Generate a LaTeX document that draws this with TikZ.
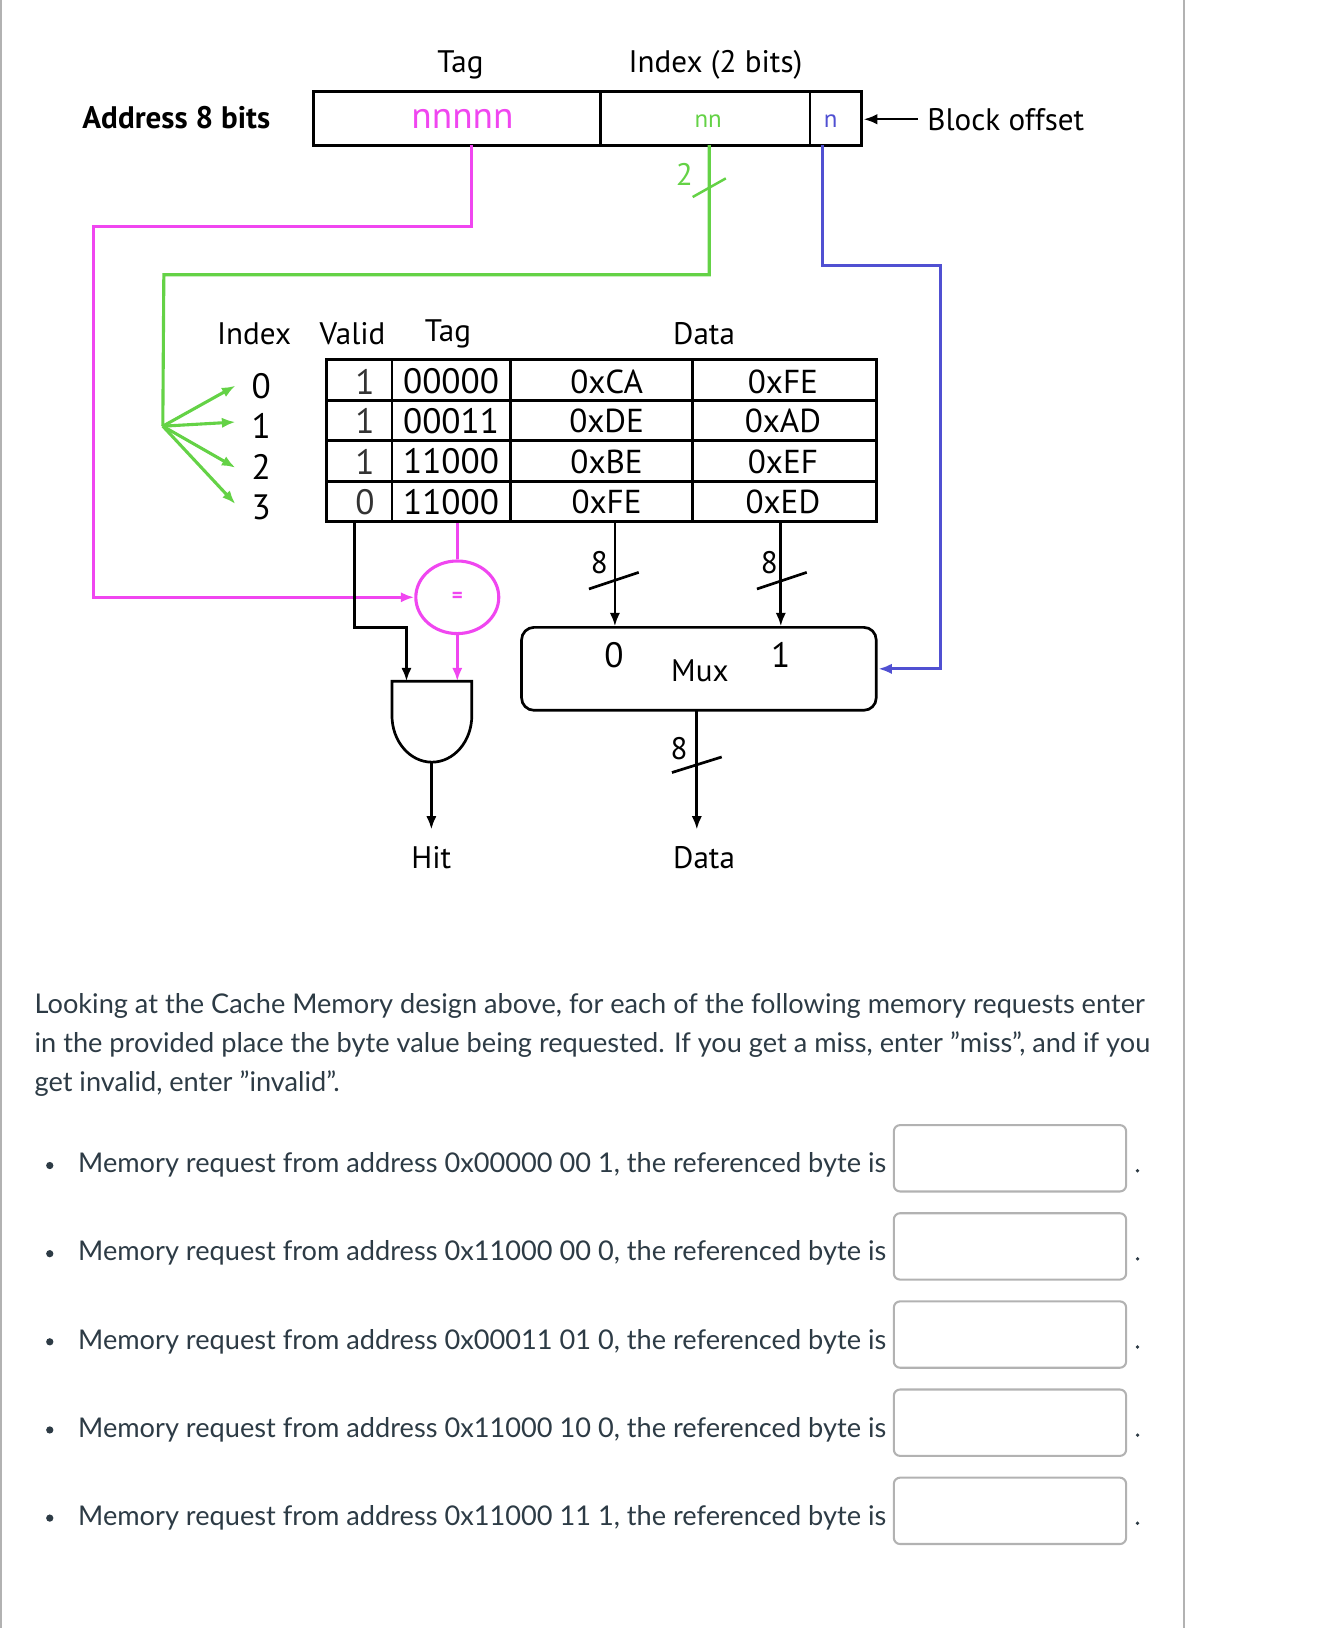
\documentclass[tikz,border=0pt]{standalone}
\usepackage{fontspec}
\setmainfont{Lato}
\newfontfamily\dg{PT Sans}
\usetikzlibrary{arrows.meta,shapes.geometric}
\definecolor{mag}{RGB}{240,70,240}
\definecolor{grn}{RGB}{100,210,70}
\definecolor{blu}{RGB}{80,80,210}
\definecolor{txt}{RGB}{45,59,69}
\begin{document}
\begin{tikzpicture}[x=0.5pt,y=-0.5pt,
  lab/.style={font=\dg\fontsize{15}{15}\selectfont,inner sep=0},
  cell/.style={font=\dg\fontsize{17}{17}\selectfont,inner sep=0},
  arr/.style={-{Latex[length=6.5pt,width=5pt]}},
  w/.style={line width=1.3pt},
  body/.style={font=\fontsize{13.1}{19}\selectfont,text=txt,inner sep=0,anchor=base west},
  ans/.style={draw=gray!60,line width=1pt,rounded corners=3pt}]
\useasboundingbox (0,0) rectangle (1292,1570);
\draw[gray!60,line width=1.2pt] (1,0)--(1,1570) (1142,0)--(1142,1570);
% address
\node[lab,font=\dg\bfseries\fontsize{15}{15}\selectfont] (addr) at (170,113) {Address\ 8\ bits};
\node[lab] (ltag) at (444,63) {Tag};
\node[lab] (lidx) at (690,63) {Index (2 bits)};
\draw[w] (302,88) rectangle (831,140) (579,88)--(579,140) (781,88)--(781,140);
\node[lab,text=mag,font=\dg\fontsize{18}{18}\selectfont] (tg) at (446,115) {nnnnn};
\node[lab,text=grn,font=\dg\fontsize{12}{12}\selectfont] (ix) at (683,117) {nn};
\node[lab,text=blu,font=\dg\fontsize{12}{12}\selectfont] (bo) at (801,117) {n};
\node[lab] (blk) at (970,115) {Block offset};
\coordinate (bs) at (885,115); \coordinate (be) at (833,115);
\draw[arr,line width=1pt] (bs)--(be);
% magenta
\node[draw=mag,line width=1.5pt,ellipse,minimum width=40pt,minimum height=35pt,inner sep=0] (eq) at (441,576) {};
\node[text=mag,font=\dg\bfseries\fontsize{10}{10}\selectfont] at (eq) {=};
\draw[mag,line width=1.5pt,arr] (455,140)--(455,218)--(90,218)--(90,576)--(eq.west);
\draw[mag,line width=1.5pt] (441,503)--(eq.north);
\draw[mag,line width=1.5pt,arr] (eq.south)--(441,657);
% green
\coordinate (fan) at (157,411);
\draw[grn,line width=1.5pt] (684,140)--(684,265)--(158,265)--(fan);
\draw[grn,line width=1.2pt] (668,190)--(700,172);
\node[lab,text=grn] at (660,168) {2};
\foreach \y in {372,407,451,486} \draw[grn,line width=1.5pt,arr] (fan)--(227,\y);
% blue
\draw[blu,line width=1.5pt,arr] (793,140)--(793,256)--(907,256)--(907,645)--(847,645);
% table
\node[lab] at (245,322) {Index};
\node[lab] at (340,322) {Valid};
\node[lab] at (432,322) {Tag};
\node[lab] at (679,322) {Data};
\foreach \i/\y in {0/372,1/411,2/450,3/489} \node[cell] at (252,\y) {\i};
\draw[w] (315,347) rectangle (845,503);
\foreach \y in {386,425,464} \draw[w] (315,\y)--(845,\y);
\foreach \x in {378,492,668} \draw[w] (\x,347)--(\x,503);
\foreach \v/\t/\a/\b/\y in {1/00000/0xCA/0xFE/368,1/00011/0xDE/0xAD/406,1/11000/0xBE/0xEF/445,0/11000/0xFE/0xED/484}{
  \node[cell,text=black!80] at (352,\y) {\v};
  \node[cell] at (435,\y) {\t};
  \node[cell,font=\dg\fontsize{16}{16}\selectfont] at (585,\y) {\a};
  \node[cell,font=\dg\fontsize{16}{16}\selectfont] at (755,\y) {\b};}
% valid to AND
\draw[w,arr] (342,503)--(342,605)--(392,605)--(392,657);
% AND gate
\draw[w] (378,657)--(455,657)--(455,690) arc[start angle=0,end angle=-180,x radius=38.5,y radius=-45]--cycle;
\draw[w,arr] (416,735)--(416,800);
\node[lab] at (416,827) {Hit};
% mux
\draw[w,rounded corners=6pt] (503,605) rectangle (845,685);
\node[cell] at (592,632) {0};
\node[cell] at (753,632) {1};
\node[lab] at (675,647) {Mux};
\draw[w,arr] (593,503)--(593,604);
\draw[w] (568,568)--(616,552);
\node[lab] at (578,543) {8};
\draw[w,arr] (753,503)--(753,604);
\draw[w] (730,568)--(778,552);
\node[lab] at (742,543) {8};
\draw[w,arr] (672,685)--(672,800);
\draw[w] (648,745)--(696,730);
\node[lab] at (655,722) {8};
\node[lab] at (679,827) {Data};
% text
\node[body] at (33,977) {Looking at the Cache Memory design above, for each of the following memory requests enter};
\node[body] at (33,1015) {in the provided place the byte value being requested. If you get a miss, enter {\char34}miss{\char34}, and if you};
\node[body] at (33,1053) {get invalid, enter {\char34}invalid{\char34}.};
\foreach \a/\y in {0x00000 00 1/1122,0x11000 00 0/1207,0x00011 01 0/1292,0x11000 10 0/1377,0x11000 11 1/1462}{
  \fill[txt] (48,\y+2) circle (3.5);
  \node[body] at (75,\y+9) {Memory request from address \a, the referenced byte is};
  \draw[ans] (862,\y-37) rectangle (1086,\y+27);
  \fill[txt] (1097,\y+7) circle (1.8);}
\end{tikzpicture}
\end{document}
